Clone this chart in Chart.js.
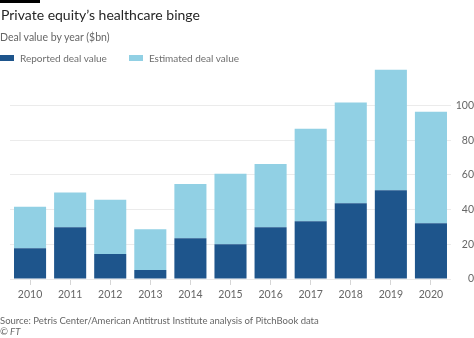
<!DOCTYPE html>
<html lang="en">
<head>
<meta charset="UTF-8">
<title>Private equity's healthcare binge</title>
<style>
    body { margin: 0; background: #fff; font-family: Lato, "Liberation Sans", sans-serif; }
    .wrap { position: relative; width: 474px; height: 338px; overflow: hidden; }
    .topbar { position: absolute; left: 0; top: 0; width: 40px; height: 3px; background: #000; }
    .title { position: absolute; left: 1px; top: 6px; font-size: 14px; color: #262626; white-space: nowrap; }
    .subtitle { position: absolute; left: 0; top: 31px; font-size: 10.5px; color: #666; white-space: nowrap; }
    .legend { position: absolute; left: 0; top: 51px; font-size: 10px; color: #6e6e6e; white-space: nowrap; }
    .legend span { display: inline-block; vertical-align: middle; }
    .swatch { width: 14px; height: 6px; margin-right: 6px; }
    .source { position: absolute; left: 0; top: 315px; font-size: 9.5px; color: #666; white-space: nowrap; line-height: 11px; }
    canvas { position: absolute; left: 0; top: 0; }
</style>
</head>
<body>
<div class="wrap">
    <canvas id="grafica" width="474" height="338"></canvas>
    <div class="topbar"></div>
    <div class="title">Private equity’s healthcare binge</div>
    <div class="subtitle">Deal value by year ($bn)</div>
    <div class="legend" id="leyenda"></div>
    <div class="source">Source: Petris Center/American Antitrust Institute analysis of PitchBook data<br><i>© FT</i></div>
</div>

<script src="https://cdn.jsdelivr.net/npm/chart.js@4.4.1/dist/chart.umd.min.js"></script>
<script>
// Datos
const years = ["2010", "2011", "2012", "2013", "2014", "2015", "2016", "2017", "2018", "2019", "2020"];
const reportedValues = [17.7, 29.8, 14.4, 5.2, 23.5, 20.0, 29.8, 33.3, 43.7, 51.2, 32.1];
const estimatedValues = [24.0, 20.0, 31.2, 23.5, 31.3, 40.6, 36.4, 53.3, 58.0, 69.4, 64.3];
const yTicks = [0, 20, 40, 60, 80, 100];

const seriesNames = ["Reported deal value", "Estimated deal value"];
const seriesColors = ["#1e558c", "#91d0e4"];

// leyenda en html
const leyenda = document.getElementById('leyenda');
seriesNames.forEach((name, i) => {
    leyenda.innerHTML += `<span class="swatch" style="background:${seriesColors[i]}"></span>` +
        `<span style="margin-right:${i === 0 ? 22 : 0}px">${name}</span>`;
});

const labelFont = { family: 'Lato, "Liberation Sans", sans-serif', size: 10.5 };

new Chart(document.getElementById('grafica'), {
    type: 'bar',
    data: {
        labels: years,
        datasets: [
            {
                label: seriesNames[0],
                data: reportedValues,
                backgroundColor: seriesColors[0],
                borderWidth: 0
            },
            {
                label: seriesNames[1],
                data: estimatedValues,
                backgroundColor: seriesColors[1],
                borderWidth: 0
            }
        ]
    },
    options: {
        responsive: false,
        animation: false,
        barPercentage: 0.8,
        categoryPercentage: 1,
        layout: { padding: { top: 69, left: 10, right: 0, bottom: 39 } },
        plugins: {
            legend: { display: false },
            title: { display: false },
            tooltip: { enabled: false }
        },
        scales: {
            x: {
                stacked: true,
                grid: { display: true, drawOnChartArea: false, offset: false, tickLength: 6, color: '#d6d6d6' },
                border: { display: false },
                ticks: { font: labelFont, color: '#666', padding: 3 },
                afterFit: (scale) => { scale.height = 20; }
            },
            y: {
                stacked: true,
                position: 'right',
                min: 0,
                max: 121,
                grid: { color: '#ebebeb', drawTicks: false },
                border: { display: false },
                ticks: { stepSize: 20, font: labelFont, color: '#666', padding: 2, crossAlign: 'far' },
                afterBuildTicks: (scale) => { scale.ticks = yTicks.map(v => ({ value: v })); },
                afterFit: (scale) => { scale.width = 23; }
            }
        }
    }
});
</script>
</body>
</html>
